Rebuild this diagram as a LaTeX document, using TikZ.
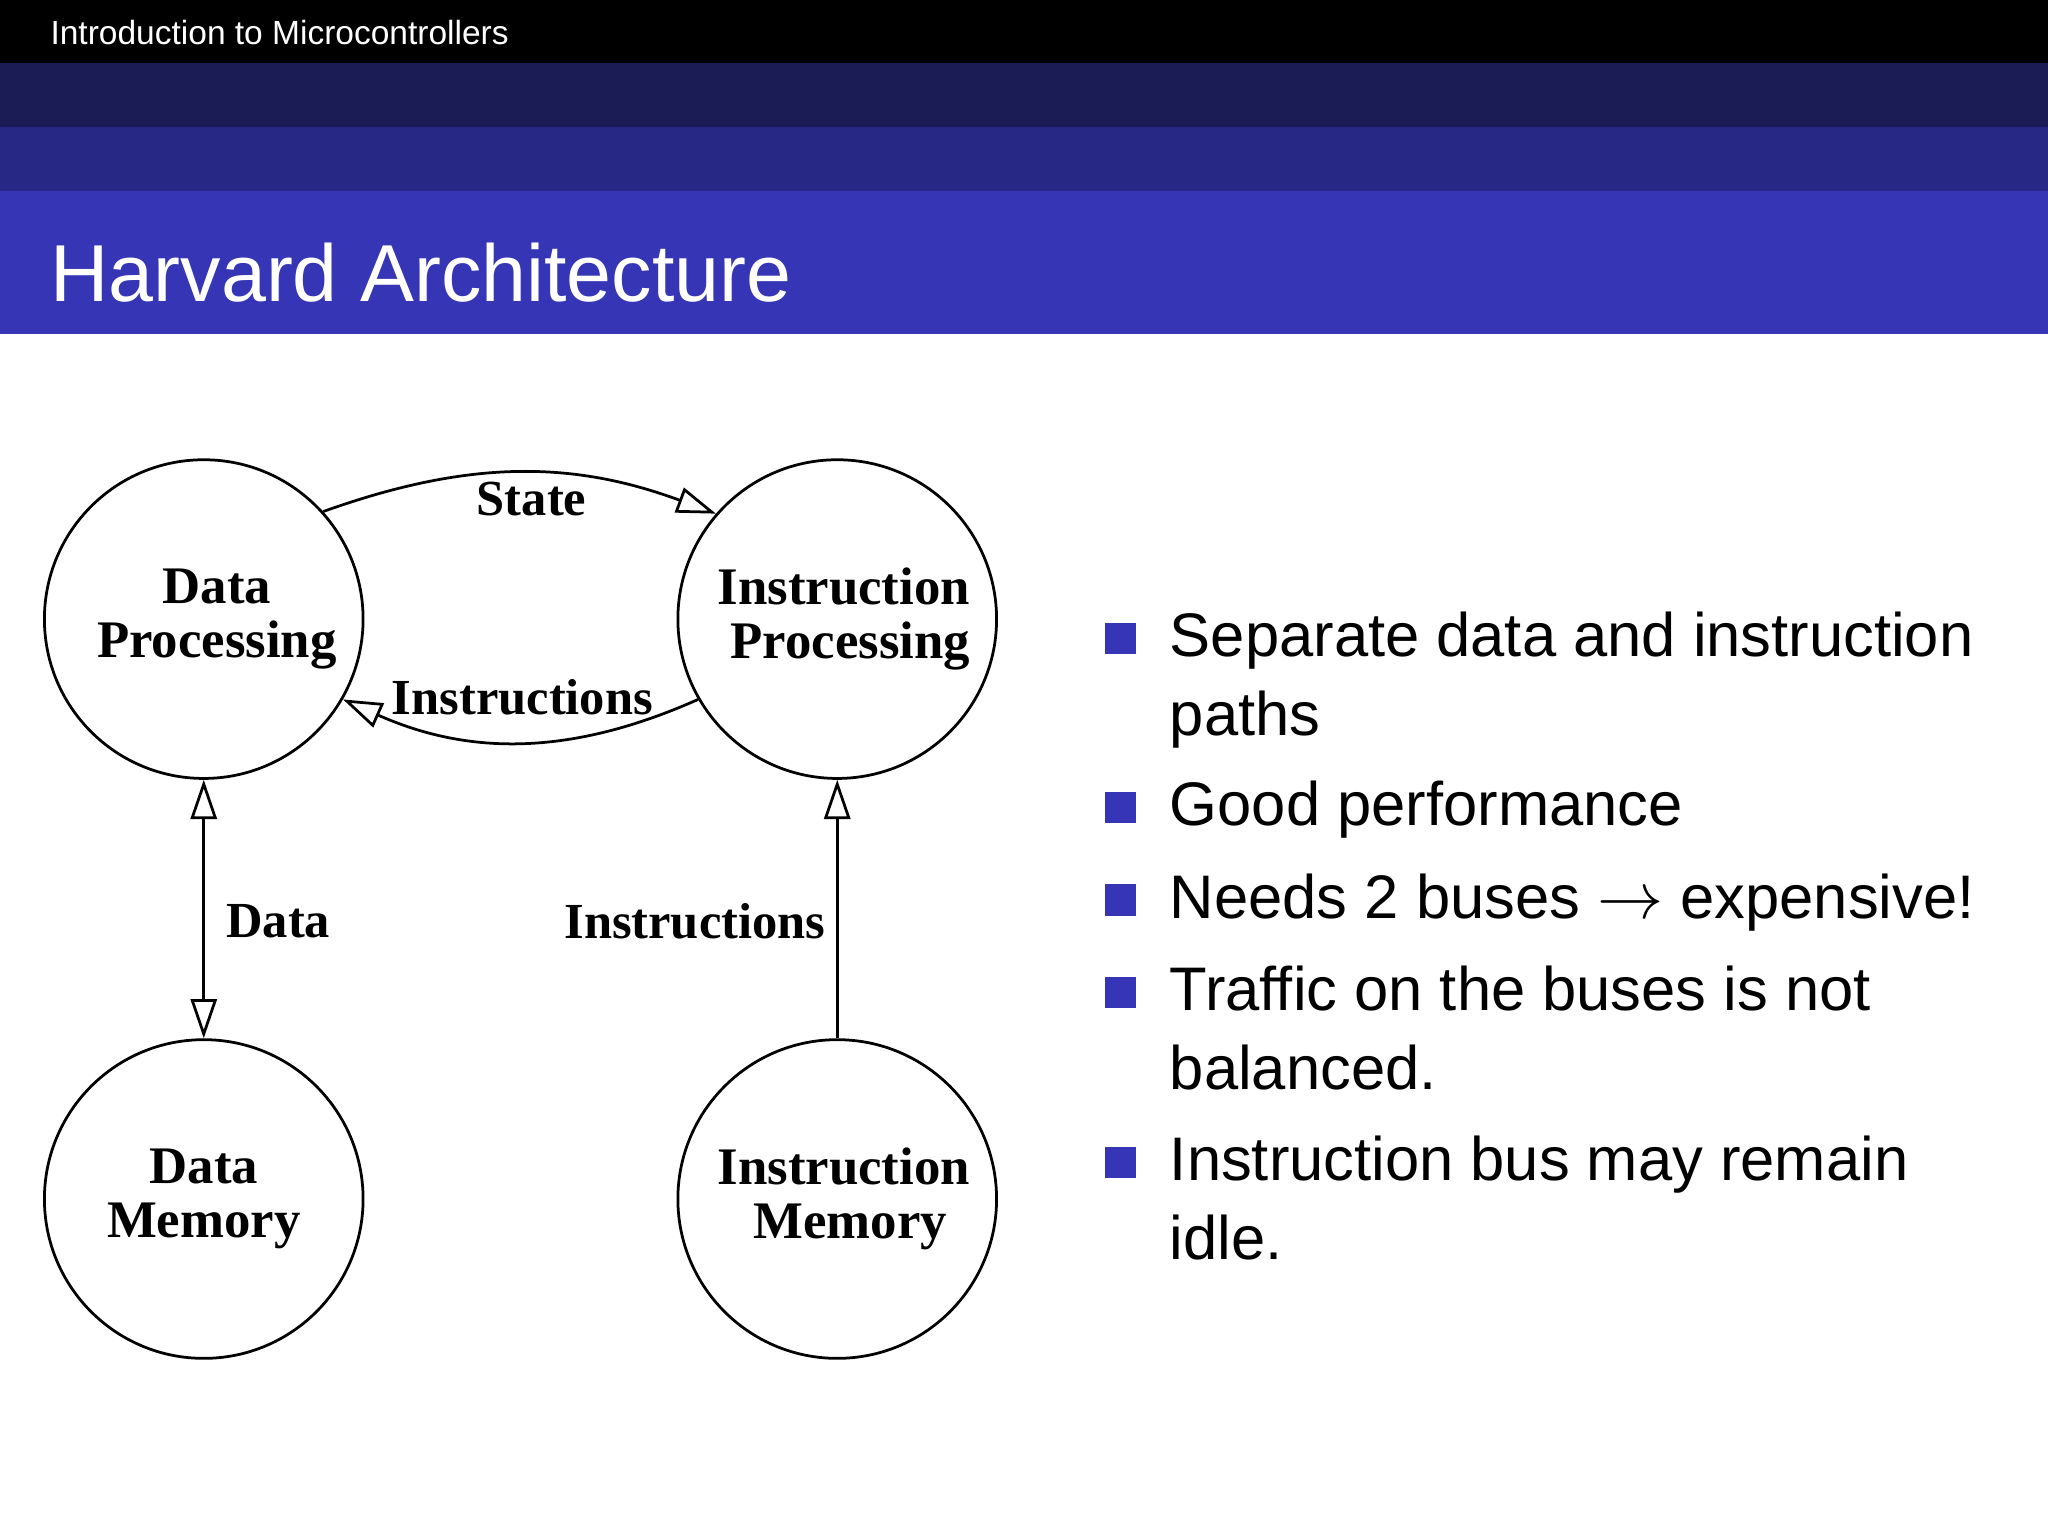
\documentclass[tikz,border=0pt]{standalone}
\usepackage{fontspec}
\setmainfont{Liberation Serif}
\setsansfont{Liberation Sans}
\usetikzlibrary{arrows.meta}
\definecolor{barA}{HTML}{1B1B55}
\definecolor{barB}{HTML}{272786}
\definecolor{barC}{HTML}{3535B5}
\tikzset{
  circ/.style={draw,circle,minimum size=2.44cm,inner sep=0pt,line width=0.6pt,align=center,font=\bfseries\fontsize{11.5}{11.7}\selectfont},
  lab/.style={font=\bfseries\fontsize{11}{13}\selectfont},
  conn/.style={line width=0.6pt},
  tip/.style={-{Triangle[open,length=0.3cm,width=0.2cm]}},
  bul/.style={fill=barC,minimum size=0.24cm,inner sep=0pt},
  btxt/.style={anchor=base west,align=left,inner sep=0pt,font=\sffamily\fontsize{13.4}{17.1}\selectfont}
}
\begin{document}
\begin{tikzpicture}
\useasboundingbox (0,0) rectangle (15.68,-11.76);
\fill[black] (0,0) rectangle (15.68,-0.48);
\fill[barA] (0,-0.48) rectangle (15.68,-0.97);
\fill[barB] (0,-0.97) rectangle (15.68,-1.46);
\fill[barC] (0,-1.46) rectangle (15.68,-2.56);
\node[anchor=west,text=white,font=\sffamily\fontsize{7.3}{9}\selectfont,inner sep=0pt] (hdr) at (0.38,-0.25) {Introduction to Microcontrollers};
\node[anchor=base west,text=white,font=\sffamily\fontsize{17.6}{20}\selectfont,inner sep=0pt] (ttl) at (0.38,-2.31) {Harvard Architecture};

\node[circ] (dp) at (1.56,-4.74) {\hspace*{0.2cm}Data\\\hspace*{0.2cm}Processing};
\node[circ] (ip) at (6.41,-4.74) {\hspace*{0.1cm}Instruction\\\hspace*{0.2cm}Processing};
\node[circ] (dm) at (1.56,-9.18) {Data\\Memory};
\node[circ] (im) at (6.41,-9.18) {\hspace*{0.1cm}Instruction\\\hspace*{0.2cm}Memory};

\draw[conn,tip] (dp.42) to[bend left=20] (ip.139);
\draw[conn,tip] (ip.-150) to[bend left=24] (dp.-30);
\draw[conn,{Triangle[open,length=0.3cm,width=0.2cm]}-{Triangle[open,length=0.3cm,width=0.2cm]}] (dp.south) -- (dm.north);
\draw[conn,tip] (im.north) -- (ip.south);

\node[lab] (l1) at (4.07,-3.82) {State};
\node[lab] (l2) at (4.00,-5.34) {Instructions};
\node[lab] (l3) at (2.13,-7.05) {Data};
\node[lab] (l4) at (5.32,-7.05) {Instructions};

\node[bul] (b1) at (8.58,-4.89) {};
\node[bul] (b2) at (8.58,-6.18) {};
\node[bul] (b3) at (8.58,-6.89) {};
\node[bul] (b4) at (8.58,-7.60) {};
\node[bul] (b5) at (8.58,-8.90) {};
\node[btxt] (t1) at (8.95,-5.63) {Separate data and instruction\\paths};
\node[btxt] (t2) at (8.95,-6.32) {Good performance};
\node[btxt] (t3) at (8.95,-7.03) {Needs 2 buses $\rightarrow$ expensive!};
\node[btxt] (t4) at (8.95,-8.34) {Traffic on the buses is not\\balanced.};
\node[btxt] (t5) at (8.95,-9.64) {Instruction bus may remain\\idle.};
\end{tikzpicture}
\end{document}
